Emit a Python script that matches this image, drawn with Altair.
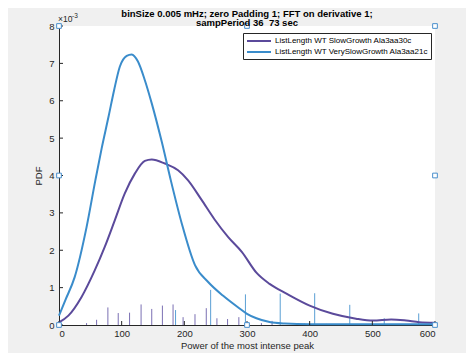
import altair as alt
import pandas as pd

# ---- data (PDF values in units of 1e-3) ----
series_names = ["ListLength WT SlowGrowth Ala3aa30c", "ListLength WT VerySlowGrowth Ala3aa21c"]
series_colors = ["#5b4a9b", "#3a8ccb"]
stem_colors = ["#7b70b3", "#5a9fd4"]

slow_x = [0, 15, 36, 57, 73, 89, 105, 121, 137, 148, 169, 190, 206, 227, 248, 270, 292, 315, 336, 363, 400, 437, 474, 501, 530, 554, 575, 600]
slow_y = [0.07, 0.25, 0.75, 1.46, 2.09, 2.8, 3.52, 4.05, 4.39, 4.43, 4.32, 4.14, 3.87, 3.36, 2.83, 2.35, 1.95, 1.4, 1.1, 0.84, 0.52, 0.3, 0.17, 0.12, 0.15, 0.12, 0.075, 0.06]

vslow_x = [0, 10, 25, 44, 58, 68, 79, 88, 97, 108, 116, 126, 137, 148, 164, 178, 196, 217, 238, 262, 285, 300, 315, 336, 360, 400, 450, 500, 550, 600]
vslow_y = [0.25, 0.66, 1.28, 2.62, 3.87, 4.72, 5.57, 6.29, 6.91, 7.2, 7.24, 7.05, 6.55, 5.93, 4.9, 3.9, 2.71, 1.6, 1.15, 0.78, 0.48, 0.3, 0.18, 0.08, 0.04, 0.02, 0.02, 0.02, 0.02, 0.02]

slow_stem_x = [44, 60, 78, 94.5, 112.6, 131, 148, 165, 182, 198, 217, 235, 252, 269, 287, 323, 340, 392, 427]
slow_stem_h = [0.05, 0.14, 0.47, 0.32, 0.33, 0.55, 0.43, 0.52, 0.55, 0.21, 0.29, 0.45, 0.18, 0.16, 0.21, 0.05, 0.11, 0.04, 0.03]

vslow_stem_x = [186, 242, 297.5, 353, 408, 464, 519, 574]
vslow_stem_h = [0.4, 0.94, 0.82, 0.84, 0.85, 0.54, 0.18, 0.31]

x_ticks = [0, 100, 200, 300, 400, 500, 600]
y_ticks = [0, 1, 2, 3, 4, 5, 6, 7, 8]

handle_x = [0, 300, 600, 0, 600, 0, 300, 600]
handle_y = [0, 0, 0, 4, 4, 8, 8, 8]

title_lines = ["binSize 0.005 mHz; zero Padding 1; FFT on derivative 1;", "sampPeriod 36\u00a0 73 sec"]
x_title = "Power of the most intense peak"
y_title = "PDF"

# ---- tables ----
curves = pd.concat([
    pd.DataFrame({"x": slow_x, "y": slow_y, "series": series_names[0], "o": range(len(slow_x))}),
    pd.DataFrame({"x": vslow_x, "y": vslow_y, "series": series_names[1], "o": range(len(vslow_x))}),
])
slow_stems = pd.DataFrame({"x": slow_stem_x, "y": slow_stem_h, "base": 0})
vslow_stems = pd.DataFrame({"x": vslow_stem_x, "y": vslow_stem_h, "base": 0})
xt = pd.DataFrame({"x": x_ticks})
yt = pd.DataFrame({"y": y_ticks})
handles = pd.DataFrame({"x": handle_x, "y": handle_y})
expo = pd.DataFrame({"x": [0], "y": [8]})

FONT = "Liberation Sans"
AX = "#262626"
W, H = 376, 299

xs = alt.Scale(domain=[0, 600], nice=False, zero=False)
ys = alt.Scale(domain=[0, 8], nice=False, zero=False)

x_axis = alt.Axis(values=x_ticks, ticks=False, grid=False, labelPadding=3, titlePadding=3,
                  domainColor=AX, labelColor=AX, titleColor=AX, labelFontSize=9.5, titleFontSize=9.5,
                  titleFontWeight="normal", labelFont=FONT, titleFont=FONT, format="d")
y_axis = alt.Axis(values=y_ticks, ticks=False, grid=False, labelPadding=5, titlePadding=5,
                  domainColor=AX, labelColor=AX, titleColor=AX, labelFontSize=9.5, titleFontSize=9.5,
                  titleFontWeight="normal", labelFont=FONT, titleFont=FONT, format="d")


def X(field="x"):
    return alt.X(f"{field}:Q", scale=xs, axis=x_axis, title=x_title)


def Y(field="y"):
    return alt.Y(f"{field}:Q", scale=ys, axis=y_axis, title=y_title)


slow_rules = alt.Chart(slow_stems).mark_rule(color=stem_colors[0], strokeWidth=1).encode(
    x=X(), y=Y(), y2="base:Q")
vslow_rules = alt.Chart(vslow_stems).mark_rule(color=stem_colors[1], strokeWidth=1).encode(
    x=X(), y=Y(), y2="base:Q")

lines = alt.Chart(curves).mark_line(strokeWidth=2, interpolate="monotone").encode(
    x=X(), y=Y(), order="o:Q",
    color=alt.Color("series:N", scale=alt.Scale(domain=series_names, range=series_colors),
                    legend=alt.Legend(title=None, orient="none", legendX=184, legendY=7,
                                      fillColor="white", strokeColor=AX, padding=3,
                                      symbolType="M-1,0H5", symbolSize=64, symbolStrokeWidth=2,
                                      labelFont=FONT, labelFontSize=8, labelColor="#000000",
                                      labelOffset=19, rowPadding=2, labelLimit=300)))

xtick_rules = alt.Chart(xt).mark_rule(color=AX, strokeWidth=1).encode(
    x=X(), y=alt.value(H), y2=alt.value(H - 4))
ytick_rules = alt.Chart(yt).mark_rule(color=AX, strokeWidth=1).encode(
    y=Y(), x=alt.value(0), x2=alt.value(4))

handle_marks = alt.Chart(handles).mark_square(size=22, fill="white", stroke="#4a8fcc", strokeWidth=1,
                                              opacity=1).encode(x=X(), y=Y())

expo_base = alt.Chart(expo).mark_text(text="\u00d710", font=FONT, fontSize=8.5, color=AX,
                                      align="left", baseline="alphabetic", dx=-1, dy=-4).encode(x=X(), y=Y())
expo_sup = alt.Chart(expo).mark_text(text="-3", font=FONT, fontSize=6.5, color=AX,
                                     align="left", baseline="alphabetic", dx=13, dy=-8).encode(x=X(), y=Y())

chart = alt.layer(
    slow_rules, vslow_rules, lines, xtick_rules, ytick_rules, handle_marks, expo_base, expo_sup
).properties(
    width=W, height=H,
    title=alt.TitleParams(text=title_lines, font=FONT, fontSize=9.5, fontWeight="bold", color="#000000",
                          anchor="middle", frame="group", offset=-14.5, lineHeight=9.5),
    autosize=alt.AutoSizeParams(type="none"),
    padding={"left": 51, "top": 18, "right": 31, "bottom": 28},
    background="#f0f0f0",
).configure_view(stroke=None, fill="white")

chart.save("out.html", embed_options={"renderer": "svg", "actions": False})
